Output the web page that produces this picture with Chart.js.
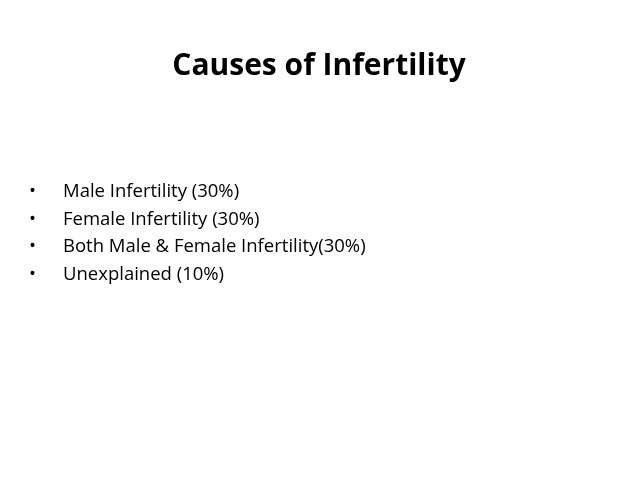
<!DOCTYPE html>
<html><head><meta charset="utf-8">
<script src="https://cdn.jsdelivr.net/npm/chart.js@4"></script>
<style>html,body{margin:0;padding:0;background:#fff}#wrap{width:638px;height:478px}</style>
</head><body><div id="wrap"><canvas id="c" width="638" height="478"></canvas></div>
<script>
const titleText = "Causes of Infertility";
const categories = ["Male Infertility", "Female Infertility", "Both Male & Female Infertility", "Unexplained"];
const values = [30, 30, 30, 10];
const separators = [" (", " (", "(", " ("];

const bulletPlugin = {
  id: 'bullets',
  afterDraw(chart) {
    const ctx = chart.ctx;
    ctx.save();
    ctx.fillStyle = '#000';
    ctx.textBaseline = 'middle';
    ctx.font = '18.5px "Open Sans", sans-serif';
    categories.forEach((c, i) => {
      const y = 192 + i * 27.6;
      ctx.fillText('•', 29, y);
      ctx.fillText(c + separators[i] + values[i] + '%)', 63, y);
    });
    ctx.restore();
  }
};

new Chart(document.getElementById('c'), {
  type: 'bar',
  data: { labels: categories, datasets: [{ data: values, backgroundColor: 'rgba(0,0,0,0)' }] },
  options: {
    responsive: false, animation: false,
    layout: { padding: { top: 38 } },
    scales: { x: { display: false }, y: { display: false } },
    plugins: {
      legend: { display: false }, tooltip: { enabled: false },
      title: { display: true, text: titleText, color: '#000',
        font: { family: '"Open Sans", sans-serif', size: 30, weight: 'bold' } }
    }
  },
  plugins: [bulletPlugin]
});
</script></body></html>
